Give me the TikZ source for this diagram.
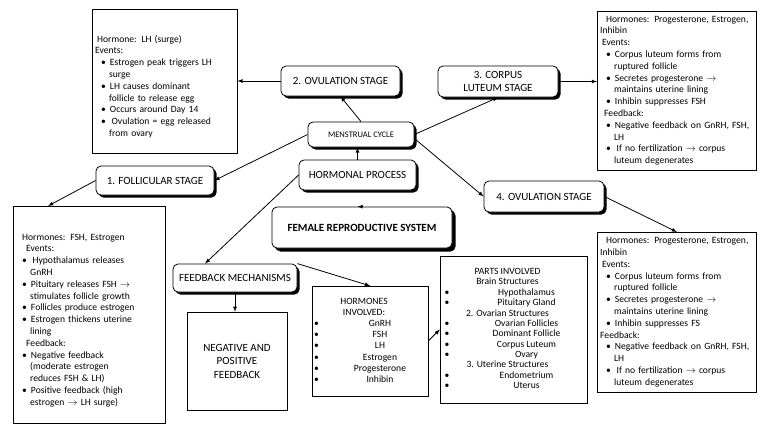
\documentclass[tikz,border=0pt]{standalone}
\usepackage{fontspec}
\setmainfont{Carlito}
\usepackage{array}
\usetikzlibrary{shadows}
\newcommand{\bl}[1]{\hspace*{6pt}\textbullet\hspace{4pt}#1}
\newcommand{\cl}[1]{\hspace*{14pt}#1}
\newcolumntype{C}[1]{>{\centering\arraybackslash}p{#1}}
\begin{document}
\begin{tikzpicture}[x=1pt,y=-1pt,
  stage/.style={draw,thick,rounded corners=5pt,fill=white,align=center,font=\fontsize{11}{12.5}\selectfont,
    drop shadow={shadow xshift=2.5pt,shadow yshift=-2.5pt,fill=black,opacity=1},inner sep=0pt},
  info/.style={draw,thin,fill=white,align=left,font=\fontsize{9.6}{11.8}\selectfont,inner sep=3pt,anchor=north west},
  arr/.style={-latex,thick}]
\useasboundingbox (0,0) rectangle (768,431);
% stage nodes
\node[stage,minimum width=119pt,minimum height=30pt] (ov2) at (340.5,81) {2. OVULATION STAGE};
\node[stage,minimum width=106pt,minimum height=25pt,font=\fontsize{8.5}{10}\selectfont] (mc) at (361,134.5) {MENSTRUAL CYCLE};
\node[stage,minimum width=117pt,minimum height=30pt] (hp) at (357.5,175) {HORMONAL PROCESS};
\node[stage,minimum width=180pt,minimum height=41pt,font=\fontsize{11}{12}\selectfont\bfseries,drop shadow={shadow xshift=3.5pt,shadow yshift=-3.5pt,fill=black,opacity=1}] (frs) at (362,227.5) {FEMALE REPRODUCTIVE SYSTEM};
\node[stage,minimum width=118pt,minimum height=29pt] (fs) at (155,180.5) {1. FOLLICULAR STAGE};
\node[stage,minimum width=124pt,minimum height=28pt] (fm) at (235,278) {FEEDBACK MECHANISMS};
\node[stage,minimum width=120pt,minimum height=31pt] (cl) at (498,81.5) {3. CORPUS\\LUTEUM STAGE};
\node[stage,minimum width=120pt,minimum height=31pt] (ov4) at (544,196.5) {4. OVULATION STAGE};
% info boxes
\node[info,minimum width=145pt,minimum height=144pt,text width=139pt] (lh) at (92,9) {\rule{0pt}{8pt}\\[-2pt]
\hspace*{2pt}Hormone: LH (surge)\\
Events:\\
\bl{Estrogen peak triggers LH}\\ \cl{surge}\\
\bl{LH causes dominant}\\ \cl{follicle to release egg}\\
\bl{Occurs around Day 14}\\
\bl{\,Ovulation = egg released}\\ \cl{from ovary}};
\node[info,minimum width=152pt,minimum height=217pt,text width=146pt] (fb) at (13,206) {\rule{0pt}{8pt}\\[-2pt]
\hspace*{6pt}Hormones: FSH, Estrogen\\
\hspace*{10pt}Events:\\
\bl{\,Hypothalamus releases}\\ \cl{GnRH}\\
\bl{Pituitary releases FSH $\rightarrow$}\\ \cl{stimulates follicle growth}\\
\bl{Follicles produce estrogen}\\
\bl{Estrogen thickens uterine}\\ \cl{lining}\\
\hspace*{10pt}Feedback:\\
\bl{Negative feedback}\\ \cl{(moderate estrogen}\\ \cl{reduces FSH \& LH)}\\
\bl{Positive feedback (high}\\ \cl{estrogen $\rightarrow$ LH surge)}};
\node[draw,thin,minimum width=100pt,minimum height=98pt,align=center,font=\fontsize{11}{13.5}\selectfont] (np) at (237,361) {NEGATIVE AND\\POSITIVE\\FEEDBACK};
\node[draw,thin,minimum width=116pt,minimum height=110pt,inner sep=2pt,font=\fontsize{9.6}{11.8}\selectfont] (hi) at (370,341) {%
\renewcommand{\arraystretch}{0.95}%
\begin{tabular}{@{}p{8pt}C{92pt}@{}}
\multicolumn{2}{@{}C{100pt}@{}}{HORMONES}\\
\multicolumn{2}{@{}C{100pt}@{}}{INVOLVED:}\\
\textbullet & GnRH\\ \textbullet & FSH\\ \textbullet & LH\\
\textbullet & Estrogen\\ \textbullet & Progesterone\\ \textbullet & Inhibin
\end{tabular}};
\node[draw,thin,minimum width=147pt,minimum height=147pt,inner sep=2pt,font=\fontsize{9.6}{11.8}\selectfont] (pi) at (513.5,329.5) {%
\renewcommand{\arraystretch}{0.88}%
\begin{tabular}{@{}p{14pt}C{112pt}@{}}
\multicolumn{2}{@{}C{126pt}@{}}{PARTS INVOLVED}\\
\multicolumn{2}{@{}C{126pt}@{}}{Brain Structures}\\
\textbullet & Hypothalamus\\ \textbullet & Pituitary Gland\\
\multicolumn{2}{@{}C{126pt}@{}}{2. Ovarian Structures}\\
\textbullet & Ovarian Follicles\\ \textbullet & Dominant Follicle\\ \textbullet & Corpus Luteum\\ \textbullet & Ovary\\
\multicolumn{2}{@{}C{126pt}@{}}{3. Uterine Structures}\\
\textbullet & Endometrium\\ \textbullet & Uterus
\end{tabular}};
\node[info,minimum width=159pt,minimum height=159pt,text width=153pt,inner sep=3pt] (tr) at (597,11) {%
\hspace*{6pt}Hormones: Progesterone, Estrogen,\\
Inhibin\\
\hspace*{2pt}Events:\\
\bl{Corpus luteum forms from}\\ \cl{ruptured follicle}\\
\bl{Secretes progesterone $\rightarrow$}\\ \cl{maintains uterine lining}\\
\bl{Inhibin suppresses FSH}\\
\hspace*{4pt}Feedback:\\
\bl{Negative feedback on GnRH, FSH,}\\ \cl{LH}\\
\bl{\,If no fertilization $\rightarrow$ corpus}\\ \cl{luteum degenerates}};
\node[info,minimum width=159pt,minimum height=160pt,text width=153pt,inner sep=3pt] (br) at (597,232) {%
\hspace*{6pt}Hormones: Progesterone, Estrogen,\\
Inhibin\\
\hspace*{2pt}Events:\\
\bl{Corpus luteum forms from}\\ \cl{ruptured follicle}\\
\bl{Secretes progesterone $\rightarrow$}\\ \cl{maintains uterine lining}\\
\bl{Inhibin suppresses FS}\\
Feedback:\\
\bl{Negative feedback on GnRH, FSH,}\\ \cl{LH}\\
\bl{\,If no fertilization $\rightarrow$ corpus}\\ \cl{luteum degenerates}};
% connectors
\draw[arr] (mc.north) -- (ov2.south);
\draw[arr] (ov2.west) -- (lh.east|-ov2.west);
\draw[arr] (mc.west) -- (fs.east);
\draw[arr] (fs.west) -- ([xshift=35pt]fb.north west);
\draw[arr] (mc.east) -- (cl.south);
\draw[arr] (cl.east) -- (tr.west|-cl.east);
\draw[arr] ([yshift=-4pt]mc.east) -- (ov4.west);
\draw[arr] (ov4.east) -- ([xshift=80pt]br.north west);
\draw[arr] (hp.north) -- (hp.north|-mc.south);
\draw[arr] (frs.north) -- (frs.north-|hp.north);
\draw[arr] (hp.west) -- ([xshift=-30pt]fm.north);
\draw[arr] (fm.south) -- (np.north-|fm.south);
\draw[arr] (fm.north east) -- (hi.north);
\draw[arr] (hi.east) -- (pi.west);
\end{tikzpicture}
\end{document}
